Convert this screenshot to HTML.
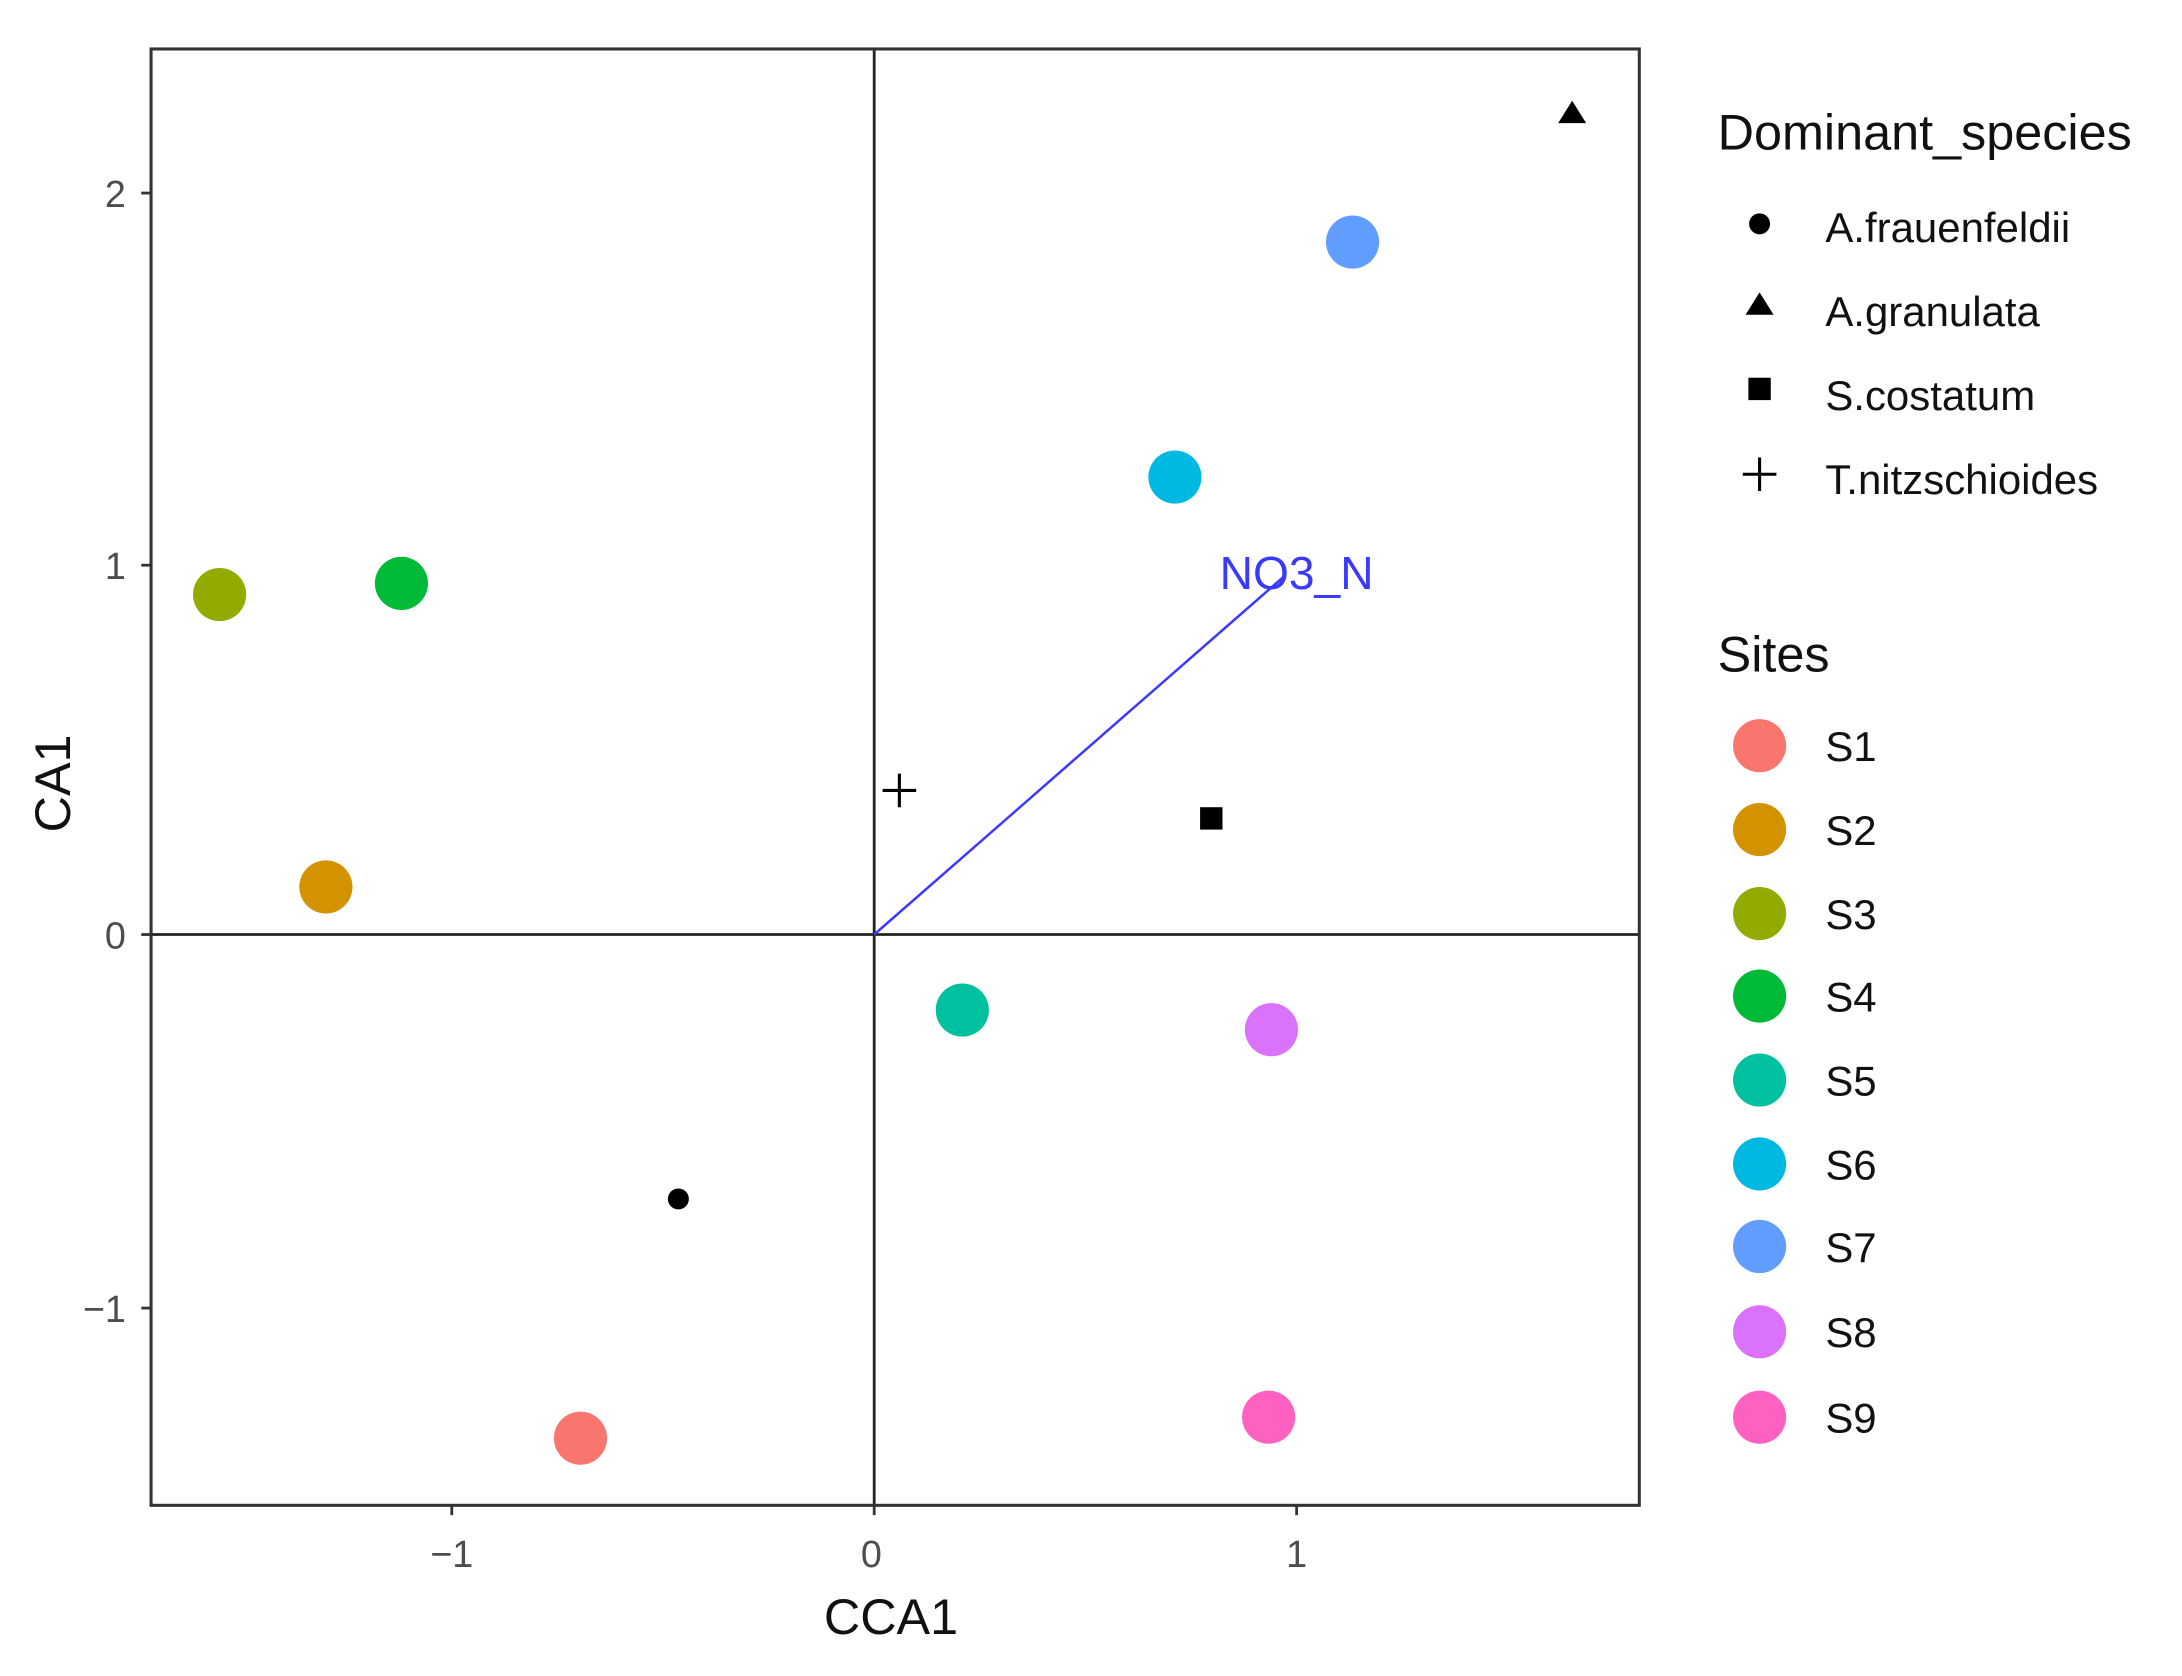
<!DOCTYPE html>
<html><head><meta charset="utf-8"><style>html,body{margin:0;padding:0;background:#fff}svg{display:block}</style></head>
<body>
<svg width="2182" height="1676" viewBox="0 0 1560 1198" preserveAspectRatio="none" xmlns="http://www.w3.org/2000/svg" font-family="Liberation Sans, sans-serif">
<rect x="0" y="0" width="1560" height="1198" fill="#fff"/>
<!-- cross lines -->
<line x1="625" y1="35" x2="625" y2="1076" stroke="#222" stroke-width="2"/>
<line x1="108" y1="668" x2="1172" y2="668" stroke="#222" stroke-width="2"/>
<!-- arrow -->
<line x1="625" y1="668" x2="918" y2="412" stroke="#3a3aff" stroke-width="1.8"/>
<text x="927" y="421" font-size="33" fill="#3a3aff" text-anchor="middle">NO3_N</text>
<!-- sites -->
<g>
<circle cx="415" cy="1028" r="19" fill="#F8766D"/>
<circle cx="233" cy="634" r="19" fill="#D39200"/>
<circle cx="157" cy="425" r="19" fill="#93AA00"/>
<circle cx="287" cy="417" r="19" fill="#00BA38"/>
<circle cx="688" cy="722" r="19" fill="#00C19F"/>
<circle cx="840" cy="341" r="19" fill="#00B9E3"/>
<circle cx="967" cy="173" r="19" fill="#619CFF"/>
<circle cx="909" cy="736" r="19" fill="#DB72FB"/>
<circle cx="907" cy="1013" r="19" fill="#FF61C3"/>
</g>
<!-- species -->
<circle cx="485" cy="857" r="7.5" fill="#000"/>
<polygon points="1124,72 1134,88 1114,88" fill="#000"/>
<rect x="858" y="577" width="16" height="16" fill="#000"/>
<path d="M631 565 H655 M643 553 V577" stroke="#000" stroke-width="2.2"/>
<!-- box -->
<rect x="108" y="35" width="1064" height="1041" fill="none" stroke="#333" stroke-width="2.2"/>
<!-- ticks -->
<g stroke="#333" stroke-width="2">
<line x1="323" y1="1076" x2="323" y2="1083"/><line x1="625" y1="1076" x2="625" y2="1083"/><line x1="927" y1="1076" x2="927" y2="1083"/>
<line x1="101" y1="138" x2="108" y2="138"/><line x1="101" y1="404" x2="108" y2="404"/><line x1="101" y1="668" x2="108" y2="668"/><line x1="101" y1="935" x2="108" y2="935"/>
</g>
<g font-size="27" fill="#4d4d4d">
<text x="323" y="1120" text-anchor="middle">−1</text>
<text x="623" y="1120" text-anchor="middle">0</text>
<text x="927" y="1120" text-anchor="middle">1</text>
<text x="90" y="148" text-anchor="end">2</text>
<text x="90" y="414" text-anchor="end">1</text>
<text x="90" y="678" text-anchor="end">0</text>
<text x="90" y="945" text-anchor="end">−1</text>
</g>
<text x="637" y="1168" font-size="36" text-anchor="middle" fill="#111">CCA1</text>
<text transform="translate(50,560) rotate(-90)" font-size="36" text-anchor="middle" fill="#111">CA1</text>
<!-- legend -->
<text x="1228" y="107" font-size="36" fill="#111">Dominant_species</text>
<g font-size="30" fill="#111">
<circle cx="1258" cy="160" r="7.5" fill="#000"/>
<text x="1305" y="173">A.frauenfeldii</text>
<polygon points="1258,209 1268,225 1248,225" fill="#000"/>
<text x="1305" y="233">A.granulata</text>
<rect x="1250" y="270" width="16" height="16" fill="#000"/>
<text x="1305" y="293">S.costatum</text>
<path d="M1246 339 H1270 M1258 327 V351" stroke="#000" stroke-width="2.2"/>
<text x="1305" y="353">T.nitzschioides</text>
</g>
<text x="1228" y="480" font-size="36" fill="#111">Sites</text>
<g font-size="30" fill="#111">
<circle cx="1258" cy="533" r="19" fill="#F8766D"/><text x="1305" y="544">S1</text>
<circle cx="1258" cy="593" r="19" fill="#D39200"/><text x="1305" y="604">S2</text>
<circle cx="1258" cy="653" r="19" fill="#93AA00"/><text x="1305" y="664">S3</text>
<circle cx="1258" cy="712" r="19" fill="#00BA38"/><text x="1305" y="723">S4</text>
<circle cx="1258" cy="772" r="19" fill="#00C19F"/><text x="1305" y="783">S5</text>
<circle cx="1258" cy="832" r="19" fill="#00B9E3"/><text x="1305" y="843">S6</text>
<circle cx="1258" cy="891" r="19" fill="#619CFF"/><text x="1305" y="902">S7</text>
<circle cx="1258" cy="952" r="19" fill="#DB72FB"/><text x="1305" y="963">S8</text>
<circle cx="1258" cy="1013" r="19" fill="#FF61C3"/><text x="1305" y="1024">S9</text>
</g>
</svg>
</body></html>
